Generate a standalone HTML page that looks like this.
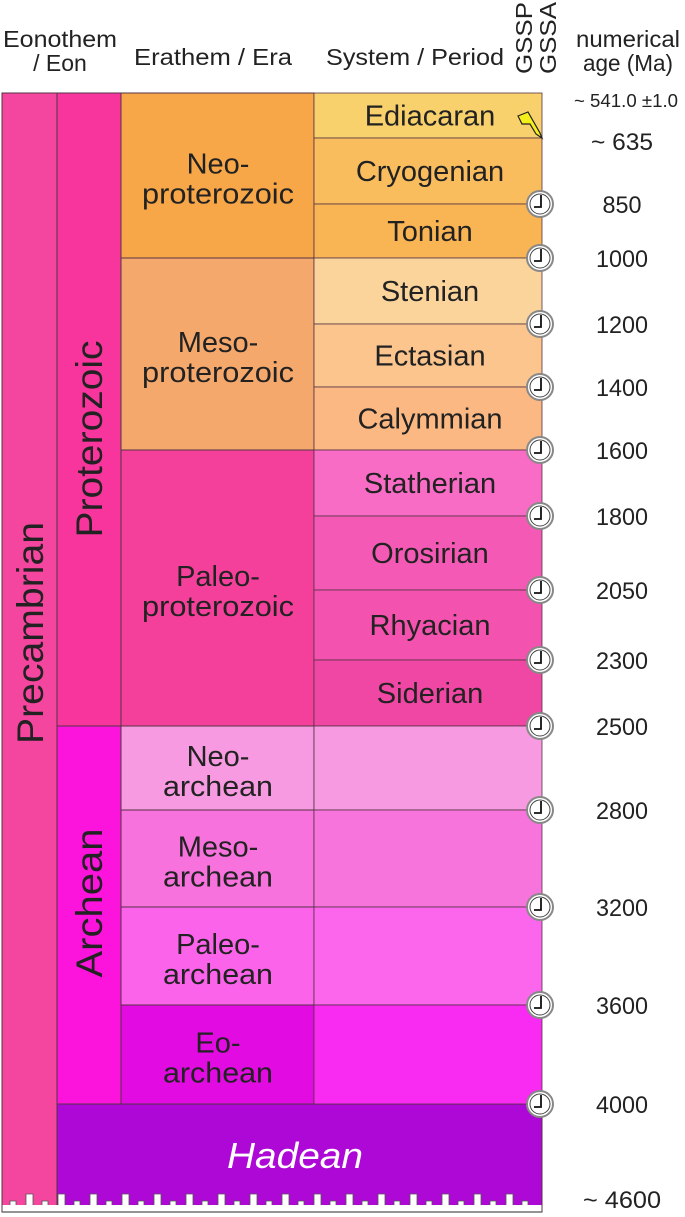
<!DOCTYPE html>
<html><head><meta charset="utf-8"><style>
body{margin:0;background:#fff;width:685px;height:1217px;overflow:hidden}
svg{display:block;font-family:"Liberation Sans",sans-serif}
</style></head><body>
<svg id="c" width="685" height="1217">
<g font-size="23" fill="#222">
<text x="60" y="47" text-anchor="middle" textLength="114" lengthAdjust="spacingAndGlyphs">Eonothem</text>
<text x="60" y="71" text-anchor="middle">/  Eon</text>
<text x="213" y="65" text-anchor="middle" textLength="158" lengthAdjust="spacingAndGlyphs">Erathem / Era</text>
<text x="415" y="65" text-anchor="middle" textLength="178" lengthAdjust="spacingAndGlyphs">System / Period</text>
<text transform="translate(532,74) rotate(-90)" textLength="72" lengthAdjust="spacingAndGlyphs">GSSP</text>
<text transform="translate(556,74) rotate(-90)" textLength="72" lengthAdjust="spacingAndGlyphs">GSSA</text>
<text x="628" y="47" text-anchor="middle" textLength="104" lengthAdjust="spacingAndGlyphs">numerical</text>
<text x="628" y="71" text-anchor="middle" textLength="90" lengthAdjust="spacingAndGlyphs">age (Ma)</text>
</g>
<g id="marks"></g>
</svg>
<script>
// boundary ages (Ma) and where they sit on the chart's non-linear scale
const scaleAges = [541, 635, 850, 1000, 1200, 1400, 1600, 1800, 2050, 2300, 2500, 2800, 3200, 3600, 4000, 4600];
const scaleY    = [93, 138, 204, 258, 324, 387, 450, 516, 590, 660, 726, 810, 907, 1005, 1104, 1212];
function y(age){
  for(let i=0;i<scaleAges.length-1;i++){
    if(age<=scaleAges[i+1]){const t=(age-scaleAges[i])/(scaleAges[i+1]-scaleAges[i]);return scaleY[i]+t*(scaleY[i+1]-scaleY[i]);}
  }
  return scaleY[scaleY.length-1];
}
const periodNames = ["Ediacaran","Cryogenian","Tonian","Stenian","Ectasian","Calymmian","Statherian","Orosirian","Rhyacian","Siderian","","","",""];
const periodStart = [541,635,850,1000,1200,1400,1600,1800,2050,2300,2500,2800,3200,3600];
const periodEnd   = [635,850,1000,1200,1400,1600,1800,2050,2300,2500,2800,3200,3600,4000];
const periodColors= ["#f9d16c","#f9bd5e","#f9b553","#fbd49b","#fbc58d","#fbb883","#f86cc6","#f45ab5","#f352ae","#f046a4","#f79ae1","#f874dd","#fb66ec","#f92af1"];
const eraNames  = [["Neo-","proterozoic"],["Meso-","proterozoic"],["Paleo-","proterozoic"],["Neo-","archean"],["Meso-","archean"],["Paleo-","archean"],["Eo-","archean"]];
const eraStart  = [541,1000,1600,2500,2800,3200,3600];
const eraEnd    = [1000,1600,2500,2800,3200,3600,4000];
const eraColors = ["#f7a748","#f5a86c","#f5409b","#f79ae1","#f772dc","#fb64ea","#e20ce3"];
const eonNames  = ["Proterozoic","Archean"];
const eonStart  = [541,2500];
const eonEnd    = [2500,4000];
const eonColors = ["#f7359c","#fc14dc"];
const tickLabels= ["~ 541.0 ±1.0","~ 635","850","1000","1200","1400","1600","1800","2050","2300","2500","2800","3200","3600","4000","~ 4600"];
const tickAges  = [541,635,850,1000,1200,1400,1600,1800,2050,2300,2500,2800,3200,3600,4000,4600];
const gsspAges  = [850,1000,1200,1400,1600,1800,2050,2300,2500,2800,3200,3600,4000];

const NS="http://www.w3.org/2000/svg", g=document.getElementById('marks');
function el(t,a,p){const e=document.createElementNS(NS,t);for(const k in a)e.setAttribute(k,a[k]);(p||g).appendChild(e);return e;}
const X0=2,X1=57,X2=121,X3=314,X4=542,STROKE="#553344";
function narrow(tx,w){tx.setAttribute('textLength',w);tx.setAttribute('lengthAdjust','spacingAndGlyphs');}

// Precambrian
let r=el('rect',{x:X0,y:y(541),width:X1-X0,height:y(4600)-y(541),fill:"#f4469f",stroke:STROKE,'stroke-width':1});


let t=el('text',{transform:`translate(43,633) rotate(-90)`,'text-anchor':'middle','font-size':37,fill:'#222'});t.textContent="Precambrian";
narrow(t,222);



// Eons
eonNames.forEach((n,i)=>{
  const a=y(eonStart[i]),b=y(eonEnd[i]);
  const e=el('rect',{x:X1,y:a,width:X2-X1,height:b-a,fill:eonColors[i],stroke:STROKE,'stroke-width':1});
  
  
  const tx=el('text',{transform:`translate(102,${i==0?439:903}) rotate(-90)`,'text-anchor':'middle','font-size':37,fill:'#222'});tx.textContent=n;
  narrow(tx,i==0?197:149);
  
  
});
// Hadean
r=el('rect',{x:X1,y:y(4000),width:X4-X1,height:y(4600)-y(4000),fill:"#ad08d6",stroke:STROKE,'stroke-width':1});


t=el('text',{x:295,y:1168,'text-anchor':'middle','font-size':36,'font-style':'italic',fill:'#fff'});t.textContent="Hadean";
narrow(t,136);



// Eras
eraNames.forEach((n,i)=>{
  const a=y(eraStart[i]),b=y(eraEnd[i]);
  const e=el('rect',{x:X2,y:a,width:X3-X2,height:b-a,fill:eraColors[i],stroke:STROKE,'stroke-width':1});
  
  
  const m=(a+b)/2;
  [0,1].forEach(k=>{const tx=el('text',{x:218,y:m-2+k*30,'text-anchor':'middle','font-size':29,fill:'#222'});tx.textContent=n[k];
    if(n[k]=='proterozoic') narrow(tx,152);
    if(n[k]=='archean') narrow(tx,110);
    
    });
});
// Periods
periodStart.forEach((s,i)=>{
  const a=y(s),b=y(periodEnd[i]);
  const e=el('rect',{x:X3,y:a,width:X4-X3,height:b-a,fill:periodColors[i],stroke:STROKE,'stroke-width':0.8});
  
  
  if(periodNames[i]){const tx=el('text',{x:430,y:(a+b)/2+10,'text-anchor':'middle','font-size':29,fill:'#222'});tx.textContent=periodNames[i];
    
    }
});
// unconformity teeth at bottom
const tb=el('g',{});


el('rect',{x:X0+0.5,y:1205,width:X4-X0-1,height:7,fill:'#fff'},tb);
for(let xx=10;xx<X4-4;xx+=32){
  el('path',{d:`M${xx},1205 V1201 H${xx+6} V1205`,fill:'#fff',stroke:'#555','stroke-width':0.8},tb);
  if(xx+16<X4-4) el('path',{d:`M${xx+16},1205 V1194 H${xx+23} V1205`,fill:'#fff',stroke:'#555','stroke-width':0.8},tb);
}
el('line',{x1:X0,y1:1212,x2:X4,y2:1212,stroke:'#555','stroke-width':1.2},tb);
// ticks
tickLabels.forEach((l,i)=>{
  const tx=el('text',{x:i==0?626:622,y:y(tickAges[i])+(i==0?14:i==1?12:i==15?-4:9),'text-anchor':'middle','font-size':i==0?18:24,fill:'#222'});
  tx.textContent=l;
  narrow(tx, i==0?104: i==15?78 : i==1?62 : l.length*13);
  
  
});
// spike
const sp=el('path',{d:'M518,116 L528,112 L540,133 L542,138 L536,134 L530,124 L522,124 Z',fill:'#f4ee1a',stroke:'#222','stroke-width':1.2});


// clocks
gsspAges.forEach(a=>{
  const cy=y(a),cg=el('g',{});
  
  
  el('circle',{cx:540,cy:cy,r:13,fill:'#fff',stroke:'#888','stroke-width':2},cg);
  el('circle',{cx:540,cy:cy,r:10,fill:'#fff',stroke:'#444','stroke-width':1},cg);
  el('path',{d:`M541,${cy-9} L541,${cy+3} L534,${cy+3}`,fill:'none',stroke:'#111','stroke-width':1.8},cg);
});
</script>
</body></html>
